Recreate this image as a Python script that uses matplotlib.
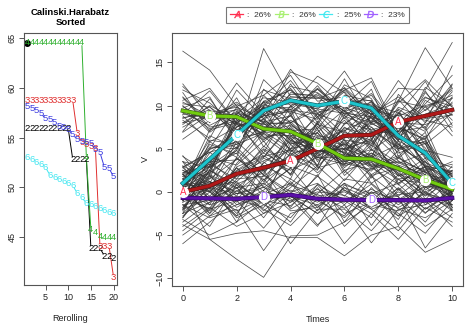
import matplotlib
matplotlib.use("Agg")
import matplotlib.pyplot as plt
import matplotlib.patheffects as pe
from matplotlib.lines import Line2D
import numpy as np

plt.rcParams['font.family'] = ['Liberation Sans', 'DejaVu Sans']

# ---- left panel: Calinski.Harabatz criterion, sorted, per number of clusters
rerolling = list(range(1, 21))
crit_2 = [55.9]*10 + [52.8, 52.8, 52.8, 52.8, 43.9, 43.9, 43.9, 43.1, 43.1, 42.9]
crit_3 = [58.7]*11 + [55.4, 54.5, 54.3, 54.1, 53.9, 44.1, 44.1, 44.1, 41.0]
crit_4 = [64.5]*13 + [53.0, 45.8, 45.5, 45.1, 45.0, 45.0, 45.0]
crit_5 = [58.1, 57.9, 57.7, 57.4, 56.9, 56.8, 56.5, 56.1, 56.0, 55.8,
          55.3, 54.8, 54.6, 54.5, 54.4, 53.8, 53.5, 52.0, 51.9, 51.1]
crit_6 = [53.0, 52.8, 52.5, 52.3, 52.0, 51.2, 51.0, 50.8, 50.6, 50.4,
          50.2, 49.4, 49.0, 48.4, 48.3, 48.1, 47.9, 47.7, 47.5, 47.4]
crit_labels = ['2', '3', '4', '5', '6']
crit_colors = ['black', '#e03030', '#2fb02f', '#3c3ce0', '#40e6f0']
best_x, best_y = 1, 64.5

# ---- right panel: trajectories
times = list(range(0, 11))
traj_a = [
    [2.1, -1.5, 4.0, 1.2, 6.3, 3.1, 8.9, 5.0, 10.7, 7.2, 12.4],
    [-3.0, 1.8, -0.5, 4.9, 2.0, 7.6, 4.3, 9.1, 6.0, 11.5, 8.3],
    [0.8, 3.5, 1.0, -1.2, 5.5, 2.6, 7.0, 9.8, 5.9, 12.1, 10.0],
    [4.2, 0.3, 5.8, 3.0, 1.5, 8.2, 5.5, 3.9, 11.3, 8.0, 14.6],
    [-1.5, -4.0, 0.9, 2.2, 6.5, 4.0, 3.2, 8.8, 7.5, 6.1, 10.9],
    [1.0, 2.9, 4.5, 0.5, 2.7, 6.9, 9.5, 6.2, 9.0, 12.8, 7.7],
    [-4.5, -2.0, 1.5, 5.3, 3.0, 1.8, 6.2, 8.0, 12.9, 9.4, 11.8],
    [2.8, 4.6, 2.0, 4.0, 7.9, 5.5, 8.3, 4.8, 7.0, 10.2, 13.5],
    [-0.6, 0.4, -2.8, 3.5, 0.8, 4.7, 5.0, 9.9, 8.4, 6.3, 9.2],
    [0.2, -2.5, 3.3, 6.8, 4.4, 3.0, 10.0, 7.1, 5.2, 10.6, 8.9],
    [3.5, 1.2, 0.0, 2.5, 5.0, 9.1, 6.0, 3.6, 9.6, 7.5, 11.0],
    [-2.2, 3.0, 5.2, 1.9, -0.3, 4.5, 7.8, 10.5, 6.7, 9.9, 6.5],
    [1.5, -0.8, 2.4, 4.1, 4.9, 2.2, 5.0, 6.0, 10.3, 13.0, 9.8],
    [-1.0, 1.9, -0.2, 0.8, 3.8, 6.0, 4.0, 7.5, 4.9, 8.0, 11.6],
    [0.5, 4.0, 3.1, 5.9, 1.9, 5.6, 8.6, 5.3, 9.2, 5.5, 8.0],
    [-3.5, -1.2, 2.8, -0.5, 4.6, 7.2, 3.5, 9.0, 11.0, 8.6, 12.5],
    [2.5, 0.6, 1.2, 3.9, 2.5, 4.0, 9.3, 6.8, 7.0, 11.7, 7.0],
    [-0.3, 2.2, 4.8, 2.0, 6.9, 3.7, 5.6, 4.2, 8.5, 7.0, 10.4],
    [1.2, 0.0, 2.5, 4.5, 2.8, 6.2, 5.4, 8.2, 7.3, 9.5, 12.0],
    [-2.0, 2.5, 0.5, 1.0, 5.8, 3.9, 7.5, 5.6, 9.8, 8.5, 8.9],
    [3.0, -1.0, 1.9, 5.0, 3.2, 5.1, 4.6, 7.9, 6.5, 10.9, 9.9],
    [0.0, 1.5, 3.8, 2.4, 4.2, 7.8, 6.9, 6.0, 10.5, 9.8, 11.2],
    [-1.8, 0.9, -1.0, 3.0, 3.9, 2.5, 8.0, 7.2, 8.0, 7.8, 9.0],
    [2.2, 3.2, 1.5, 1.8, 4.4, 5.3, 7.1, 8.6, 6.2, 9.0, 10.2],
    [-0.8, -1.9, 2.9, 4.2, 2.1, 6.5, 6.0, 5.5, 9.1, 8.3, 7.5],
    [1.8, 2.0, 0.4, 3.3, 5.9, 4.9, 6.4, 9.4, 8.8, 10.0, 10.8],
    [-2.8, 0.0, 3.9, 1.4, 3.4, 5.8, 4.9, 7.0, 7.9, 11.0, 9.4],
    [0.6, 1.0, 2.0, 3.6, 4.8, 4.4, 7.4, 6.5, 8.2, 8.7, 9.6],
]
traj_b = [
    [11.5, 7.0, 10.9, 5.2, 9.1, 3.5, 6.0, 1.6, 4.8, -0.9, 2.5],
    [7.0, 10.8, 6.5, 9.8, 4.6, 8.0, 2.2, 5.9, 0.8, 3.6, -1.8],
    [10.6, 12.0, 8.0, 6.0, 8.9, 4.2, 5.5, 2.0, 3.9, 2.3, 0.9],
    [8.3, 6.2, 11.8, 8.5, 5.5, 6.9, 1.9, 4.5, 2.0, -0.4, 3.0],
    [16.3, 14.1, 9.9, 11.2, 8.0, 9.5, 6.6, 4.0, 5.5, 3.0, 1.2],
    [9.0, 11.7, 7.9, 4.5, 10.0, 5.0, 3.1, 6.8, 1.0, 2.9, -2.2],
    [6.1, 8.3, 10.2, 7.9, 6.2, 3.0, 5.8, 2.9, 4.2, 0.5, 1.8],
    [12.2, 9.4, 6.8, 9.9, 7.1, 7.3, 2.5, 3.5, -0.5, 2.0, -0.6],
    [10.0, 6.9, 9.0, 6.4, 4.1, 6.1, 4.9, 1.0, 3.0, 1.1, 0.0],
    [7.8, 10.0, 8.4, 4.0, 7.6, 4.5, 1.3, 4.9, 2.5, -1.5, 1.5],
    [11.0, 8.0, 12.6, 9.0, 5.9, 8.7, 4.8, 6.2, 1.8, 3.9, -1.0],
    [8.8, 5.8, 7.5, 8.8, 9.6, 2.8, 3.6, 2.4, 5.9, 0.2, 2.2],
    [9.7, 11.0, 5.9, 7.0, 5.0, 5.7, 7.2, 3.0, 0.2, 2.6, -0.1],
    [6.9, 9.0, 9.5, 5.8, 8.3, 6.5, 2.8, 5.4, 3.3, 4.5, 1.0],
    [10.9, 7.5, 8.2, 10.4, 6.6, 4.8, 4.2, 1.9, 2.8, -0.2, -2.0],
    [8.0, 9.9, 6.2, 6.9, 8.8, 5.3, 3.0, 4.1, 1.5, 1.9, 0.6],
    [12.5, 8.6, 10.4, 8.0, 4.9, 7.9, 5.2, 2.7, 4.0, 2.2, 0.3],
    [9.2, 7.7, 9.3, 6.1, 7.4, 4.0, 3.9, 6.0, 2.1, 0.9, -0.5],
    [9.9, 8.1, 9.6, 7.6, 6.9, 6.0, 4.5, 3.2, 3.4, 1.8, 0.8],
    [8.5, 9.5, 7.2, 8.0, 7.9, 5.0, 3.5, 4.5, 2.9, 0.9, 1.1],
    [10.4, 8.8, 8.9, 6.6, 6.5, 6.8, 4.4, 3.6, 1.9, 2.4, -0.4],
    [7.5, 9.2, 9.8, 7.0, 7.7, 5.9, 3.3, 2.6, 3.6, 1.5, 0.4],
    [11.8, 10.3, 7.6, 8.4, 6.0, 4.6, 5.0, 3.9, 2.2, 0.0, 1.4],
    [9.5, 7.3, 8.6, 7.8, 8.1, 5.5, 4.0, 4.9, 3.1, 2.0, -0.8],
    [8.0, 8.7, 10.0, 6.3, 7.0, 6.3, 3.8, 3.0, 2.6, 1.2, 0.9],
    [10.2, 9.8, 7.8, 7.4, 6.4, 5.2, 4.6, 3.4, 1.4, 1.0, 0.1],
    [9.0, 8.5, 9.1, 8.2, 5.6, 6.0, 3.2, 4.2, 2.4, 2.8, -0.2],
    [8.6, 9.1, 8.0, 6.8, 7.3, 4.9, 4.3, 3.1, 3.0, 0.6, 0.5],
]
traj_c = [
    [3.0, 1.5, 8.9, 7.0, 12.5, 8.0, 13.1, 7.8, 8.9, 2.2, 3.5],
    [-1.2, 5.8, 4.0, 11.9, 9.0, 12.3, 8.5, 11.9, 4.1, 6.9, -1.0],
    [2.0, 3.0, 7.5, 9.0, 14.2, 10.5, 11.0, 9.0, 7.8, 3.9, 2.0],
    [0.0, 6.5, 5.1, 13.0, 10.0, 7.8, 12.4, 10.8, 5.0, 5.8, 0.2],
    [4.1, 2.1, 9.3, 8.1, 8.8, 11.9, 9.0, 8.0, 9.5, 4.0, 2.8],
    [-2.5, 4.0, 5.9, 10.5, 11.8, 9.2, 10.0, 12.8, 6.3, 2.8, -1.8],
    [1.8, 3.5, 3.7, 7.2, 9.9, 13.4, 11.5, 6.9, 3.9, 6.5, 1.2],
    [0.5, 7.2, 8.0, 10.0, 12.9, 9.0, 7.9, 9.8, 8.0, 5.1, -0.3],
    [2.5, 1.0, 6.2, 16.6, 11.0, 10.8, 12.0, 8.5, 5.6, 3.0, 2.4],
    [-0.8, 5.0, 9.8, 8.5, 9.5, 12.0, 9.6, 11.2, 7.0, 7.5, 0.5],
    [3.5, 2.8, 4.8, 11.2, 13.5, 8.7, 10.9, 10.0, 9.2, 4.8, 4.0],
    [0.2, 4.5, 7.1, 9.7, 8.0, 10.1, 14.0, 9.3, 5.5, 1.9, 1.5],
    [1.2, 6.0, 5.5, 6.8, 11.5, 11.0, 8.8, 7.5, 4.5, 5.6, -0.8],
    [-1.8, 2.5, 8.4, 10.9, 10.4, 9.6, 11.8, 13.2, 6.8, 3.5, 0.8],
    [2.2, 3.9, 6.8, 8.8, 9.3, 8.4, 10.2, 9.0, 10.5, 16.7, 12.0],
    [0.9, 5.5, 4.4, 9.9, 12.2, 11.5, 9.3, 8.2, 12.0, 11.8, 17.3],
    [1.5, 3.2, 9.0, 11.8, 10.8, 7.3, 11.2, 10.5, 3.5, 2.5, 3.2],
    [-0.5, 2.0, 5.0, 8.0, 13.9, 12.6, 9.8, 8.6, 5.9, 4.3, 1.7],
    [1.0, 5.2, 5.0, 10.5, 9.2, 11.4, 9.0, 10.2, 7.9, 3.0, 2.3],
    [0.4, 2.3, 8.2, 8.8, 12.0, 8.5, 12.1, 9.2, 5.0, 6.2, -0.5],
    [2.9, 4.6, 5.5, 9.7, 9.8, 11.9, 9.3, 10.4, 8.3, 2.8, 1.9],
    [-1.0, 3.0, 8.0, 10.3, 11.8, 8.7, 11.8, 8.9, 4.8, 5.9, 1.8],
    [1.5, 5.0, 5.8, 8.5, 11.3, 11.2, 9.4, 11.4, 7.6, 3.2, 0.6],
    [0.8, 2.6, 7.9, 10.1, 9.5, 9.0, 11.6, 8.0, 6.1, 5.6, -0.2],
    [2.0, 4.9, 6.3, 8.9, 11.0, 10.9, 10.4, 10.6, 5.2, 3.4, 2.1],
    [-0.3, 3.4, 7.5, 9.8, 10.2, 9.6, 9.1, 8.7, 7.5, 6.0, 0.9],
]
traj_d = [
    [-3.0, 0.8, -2.5, 1.5, -1.8, 2.0, -3.5, 0.5, -2.8, 1.8, -1.5],
    [1.5, -2.5, 0.5, -3.0, 1.2, -1.8, 1.0, -3.9, 0.3, -2.5, 0.8],
    [-6.0, -3.5, -1.0, -4.2, -0.5, -2.5, 0.5, -2.0, -4.5, -0.8, -3.0],
    [0.5, -5.5, -7.8, -9.9, -5.1, -5.0, -3.5, -1.5, -2.2, 0.0, -1.5],
    [-2.0, 1.9, -1.5, 0.2, 2.8, -1.0, -2.8, 1.8, -0.6, -3.5, 0.3],
    [2.8, 0.0, -2.8, -0.9, -3.5, 0.9, -1.0, -3.0, 1.5, -1.0, -4.0],
    [-3.8, -5.5, -4.8, -4.5, -5.3, -5.3, -7.4, -5.0, -4.0, -7.0, -5.5],
    [-0.5, 2.5, 0.8, -2.2, 0.5, 3.0, 0.2, -1.2, 2.0, -0.5, 1.5],
    [3.5, -1.0, 1.8, 2.5, -2.0, -0.2, 2.5, -0.5, -3.2, 2.0, -0.8],
    [-4.0, -1.8, -4.0, -2.5, -0.2, -3.8, -1.5, -5.9, -2.0, -3.0, -1.0],
    [0.0, -2.2, 1.2, -1.5, -3.0, 0.5, -4.0, -1.0, -0.5, -6.5, -2.5],
    [-2.5, 0.5, -0.2, -0.3, 1.0, -2.2, 1.5, 1.0, -1.5, 0.8, 2.5],
    [1.0, 3.0, -1.2, 1.0, -1.2, 1.8, -0.5, 2.8, 0.9, -2.0, -0.2],
    [-1.5, -3.0, -2.0, -6.8, -2.5, -1.5, -6.0, -2.5, -5.5, -1.8, -3.5],
    [2.0, -0.5, 2.8, 0.0, -0.8, -4.0, 0.8, -0.2, 1.0, 3.0, 0.0],
    [-3.2, -5.0, -3.5, -1.0, -6.0, -2.0, -2.0, -4.5, -1.0, -4.0, -2.0],
    [0.8, 1.2, -3.5, 2.0, 0.0, 1.0, -1.5, 2.0, -3.9, 0.5, 1.0],
    [-5.0, -2.8, 0.2, -2.0, -3.9, -0.8, -3.0, 0.0, -2.5, -4.8, -1.0],
    [-1.0, 0.5, -1.8, 0.0, -0.6, -1.5, 0.2, -1.8, 0.0, -1.2, -0.5],
    [0.0, -1.5, -0.5, -1.2, 0.8, -0.3, -1.9, 0.0, -1.0, 0.6, -1.8],
    [-2.0, -0.8, 0.5, -2.5, -1.2, 0.3, -0.8, -2.5, 0.5, -2.0, 0.2],
    [-0.5, -2.0, -1.0, 0.6, -2.2, -1.8, 0.5, -0.8, -1.8, -0.2, -1.0],
    [1.0, 0.0, -2.2, -0.8, 0.2, -0.9, -1.2, 0.9, -2.0, -1.5, 0.0],
    [-1.5, -1.0, 0.8, -1.0, -1.6, 0.8, -2.5, -1.2, -0.3, 0.0, -2.2],
    [-0.2, 1.2, -0.9, -1.8, 1.5, -0.5, 0.0, -1.5, 0.4, -2.4, -0.6],
    [-2.5, -1.2, -0.2, 0.5, -0.5, -2.5, -1.0, 0.3, -1.2, -0.8, -1.5],
    [0.5, -2.8, -1.5, -0.5, -1.0, 0.0, -0.4, -2.0, -0.9, 1.0, 0.4],
    [-1.2, 0.2, -3.0, -1.5, -0.1, -1.2, 1.0, -0.6, -2.8, -1.0, -0.9],
]

mean_a = [0.0, 0.7, 2.1, 2.8, 3.6, 5.0, 6.5, 6.6, 8.1, 8.8, 9.5]
mean_b = [9.4, 8.8, 8.7, 7.3, 7.0, 5.6, 3.9, 3.8, 2.7, 1.4, 0.3]
mean_c = [1.0, 3.8, 6.6, 9.4, 10.6, 10.0, 10.5, 9.7, 6.5, 4.5, 1.0]
mean_d = [-0.7, -0.75, -0.8, -0.6, -0.35, -0.8, -0.9, -0.95, -0.95, -1.0, -0.7]
cluster_names = ['A', 'B', 'C', 'D']
cluster_pct = ['26%', '26%', '25%', '23%']
line_colors = ['#b01818', '#72cc10', '#1ec4cc', '#5a10a8']
edge_colors = ['#501010', '#305010', '#105058', '#300060']
label_colors = ['#ff3050', '#a8f070', '#40e8f0', '#a060ff']

W, H = 474, 327
fig = plt.figure(figsize=(W/100, H/100), dpi=100)

def style(ax):
    for s in ax.spines.values():
        s.set_color('#555555')
        s.set_linewidth(0.8)
    ax.tick_params(length=3.5, width=0.7, color='#555555', labelsize=6.5,
                   labelcolor='#222222', pad=2)
    for lab in ax.get_yticklabels():
        lab.set_rotation(90)
        lab.set_va('center')

# left panel
ax1 = fig.add_axes([24/W, 1-285/H, 93/W, 252/H])
xlim1, ylim1 = (0.24, 20.76), (40.2, 65.5)
ax1.set_xlim(*xlim1)
ax1.set_ylim(*ylim1)
sx = 93 / (xlim1[1] - xlim1[0])    # pixels per unit
sy = 252 / (ylim1[1] - ylim1[0])
gap = 2.8                           # like R type="b": lines stop short of the points
for vals, lab, col in zip([crit_2, crit_3, crit_4, crit_5, crit_6], crit_labels, crit_colors):
    for i in range(len(vals) - 1):
        x0, x1 = rerolling[i], rerolling[i+1]
        y0, y1 = vals[i], vals[i+1]
        dx, dy = (x1 - x0) * sx, (y1 - y0) * sy
        d = np.hypot(dx, dy)
        if d > 2 * gap + 0.5:
            f = gap / d
            ax1.plot([x0 + (x1-x0)*f, x1 - (x1-x0)*f], [y0 + (y1-y0)*f, y1 - (y1-y0)*f],
                     color=col, lw=0.7)
    for xi, yi in zip(rerolling, vals):
        ax1.text(xi, yi, lab, color=col, fontsize=6.8, ha='center', va='center')
ax1.plot([best_x], [best_y], 'o', color='black', ms=4)
ax1.set_xticks([5, 10, 15, 20])
ax1.set_yticks([45, 50, 55, 60, 65])
style(ax1)
ax1.set_xlabel('Rerolling', fontsize=6.5, labelpad=9, color='#222222')
ax1.set_title('Calinski.Harabatz\nSorted', fontsize=6.8, fontweight='bold', pad=6,
              linespacing=1.05)

# right panel
ax2 = fig.add_axes([172/W, 1-286/H, 291/W, 253/H])
for group in [traj_a, traj_b, traj_c, traj_d]:
    for tr in group:
        ax2.plot(times, tr, color='#333333', lw=0.55, alpha=0.85)
means = [mean_a, mean_b, mean_c, mean_d]
for m, lc, ec in zip(means, line_colors, edge_colors):
    ax2.plot(times, m, color=lc, lw=2.2,
             path_effects=[pe.Stroke(linewidth=3.0, foreground=ec), pe.Normal()])
for k, (m, tc, name) in enumerate(zip(means, label_colors, cluster_names)):
    for t in times[k::4]:
        ax2.plot(t, m[t], 'o', color='white', ms=7, zorder=5)
        ax2.text(t, m[t], name, color=tc, fontsize=7, ha='center', va='center', zorder=6)
ax2.set_xlim(-0.4, 10.4)
ax2.set_ylim(-10.9, 18.4)
ax2.set_xticks([0, 2, 4, 6, 8, 10])
ax2.set_yticks([-10, -5, 0, 5, 10, 15])
style(ax2)
ax2.set_xlabel('Times', fontsize=6.5, labelpad=9, color='#222222')
ax2.set_ylabel('V', fontsize=6.5, labelpad=4, color='#222222')

handles = [Line2D([], [], color=tc, lw=0.9, marker='$%s$' % n, ms=5, markeredgewidth=0.3)
           for tc, n in zip(label_colors, cluster_names)]
labels = [':  %s' % p for p in cluster_pct]
leg = ax2.legend(handles, labels, ncol=4, loc='center', bbox_to_anchor=(0.5, 1.072),
                 fontsize=6, frameon=True, fancybox=False, handlelength=1.6,
                 handletextpad=0.5, columnspacing=0.4, borderpad=0.5)
leg.get_frame().set_edgecolor('#555555')
leg.get_frame().set_linewidth(0.8)
for t in leg.get_texts():
    t.set_color('#333333')

fig.savefig('out.png', dpi=100)
